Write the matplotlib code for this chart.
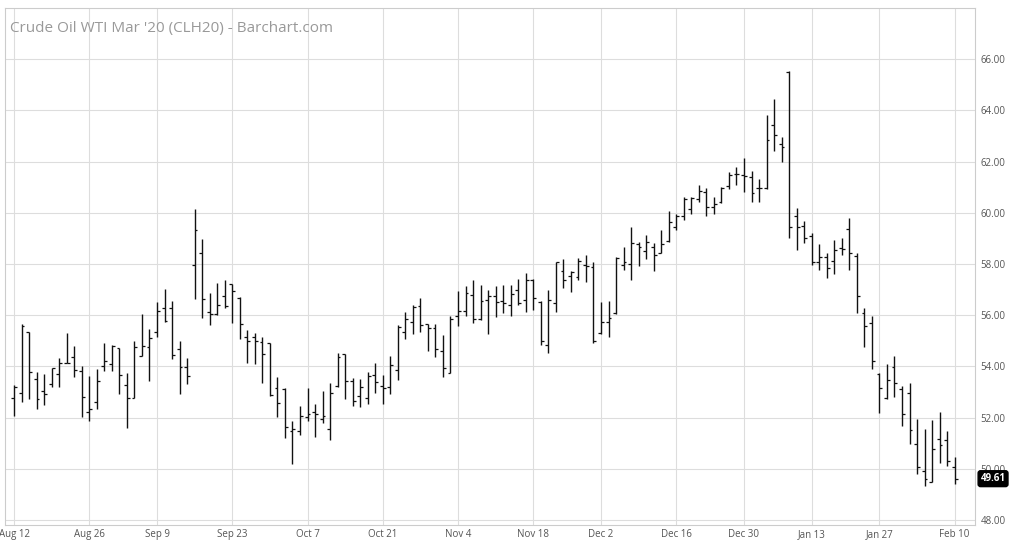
import matplotlib
matplotlib.use("Agg")
import matplotlib.pyplot as plt
import numpy as np

plt.rcParams['font.family'] = ['Open Sans', 'DejaVu Sans']

# daily OHLC (index = trading day from Aug 12)
opens = [52.75, 52.97, 55.33, 53.5, 53.05, 53.3, 53.7, 54.14, 54.35, 53.83,
         52.2, 52.61, 54.03, 54.1, 54.72, 53.27, 52.78, 54.42, 54.75, 55.36,
         56.27, 56.27, 54.68, 53.99, 57.95, 58.43, 56.14, 56.04, 56.76, 57.22,
         56.65, 55.16, 55.14, 54.94, 54.9, 53.14, 53.11, 51.48, 51.48, 52.03,
         52.2, 51.96, 51.57, 53.24, 54.48, 53.44, 52.85, 52.75, 53.66, 53.24,
         53.2, 53.86, 55.36, 55.75, 56.37, 55.66, 55.49, 54.58, 53.73, 55.97,
         56.18, 56.77, 55.84, 56.58, 56.76, 56.54, 56.41, 56.99, 56.6, 57.36,
         56.51, 54.84, 56.47, 57.71, 57.54, 57.49, 57.97, 57.88, 55.29, 55.73,
         56.08, 57.97, 58.0, 58.78, 58.51, 58.67, 58.44, 58.89, 59.45, 59.87,
         60.13, 60.52, 60.82, 60.24, 60.43, 61.05, 61.5, 61.48, 61.41, 60.95,
         60.95, 63.44, 62.68, 65.5, 59.87, 59.48, 59.08, 58.08, 58.26, 58.1,
         58.63, 59.37, 58.3, 56.1, 55.69, 53.7, 52.75, 53.99, 53.11, 52.94,
         50.98, 49.9, 49.48, 51.15, 51.11, 50.07]
highs = [53.27, 55.66, 55.33, 53.79, 53.7, 53.95, 54.31, 55.29, 54.81, 54.0,
         53.63, 53.9, 54.9, 54.84, 54.72, 53.73, 54.97, 56.04, 55.45, 56.5,
         57.02, 56.56, 55.0, 54.31, 60.16, 58.98, 56.86, 57.25, 57.36, 57.22,
         56.69, 55.42, 55.29, 55.16, 54.93, 53.57, 53.14, 51.87, 52.44, 53.14,
         52.52, 53.03, 53.33, 54.51, 54.48, 53.56, 53.49, 53.79, 54.12, 53.66,
         54.42, 55.62, 56.14, 56.38, 56.67, 55.66, 55.66, 55.23, 55.97, 56.93,
         57.12, 57.36, 57.19, 57.0, 57.15, 57.19, 57.19, 57.42, 57.65, 57.42,
         56.54, 56.97, 58.08, 58.2, 57.74, 58.24, 58.33, 58.07, 56.5, 56.54,
         58.29, 58.67, 59.44, 58.85, 59.12, 58.82, 59.32, 60.08, 59.97, 60.63,
         60.63, 61.09, 60.95, 60.6, 61.02, 61.58, 61.78, 62.13, 61.63, 61.32,
         63.83, 64.46, 62.95, 65.53, 60.2, 59.67, 59.22, 58.76, 58.43, 58.92,
         59.02, 59.78, 58.41, 56.27, 55.97, 53.73, 54.08, 54.41, 53.23, 53.33,
         51.96, 51.54, 51.9, 52.2, 51.48, 50.46]
lows = [52.05, 52.61, 52.74, 52.33, 52.5, 53.18, 53.18, 54.12, 53.6, 52.03,
        51.88, 52.35, 53.83, 53.83, 52.92, 51.6, 52.78, 54.42, 53.44, 55.16,
        55.73, 54.29, 52.92, 53.31, 56.64, 55.88, 55.62, 56.01, 56.27, 55.71,
        55.06, 54.12, 54.09, 53.36, 52.85, 52.03, 51.18, 50.17, 51.31, 51.87,
        51.22, 51.8, 51.11, 53.2, 52.71, 52.46, 52.42, 52.51, 52.97, 52.51,
        52.9, 53.46, 55.07, 55.25, 55.36, 54.61, 54.35, 53.57, 53.73, 55.58,
        55.97, 55.69, 55.82, 55.27, 55.92, 56.08, 55.95, 56.41, 56.14, 56.21,
        54.84, 54.51, 56.14, 57.06, 56.9, 57.39, 57.28, 54.9, 55.27, 55.16,
        56.05, 57.78, 57.36, 57.93, 58.18, 57.72, 58.43, 58.86, 59.32, 59.71,
        59.97, 60.43, 59.88, 59.97, 60.37, 60.92, 61.09, 60.82, 60.43, 60.43,
        60.93, 62.43, 61.97, 59.0, 58.56, 58.82, 57.97, 57.75, 57.45, 57.62,
        58.34, 57.75, 56.08, 54.77, 53.88, 52.16, 52.72, 52.81, 51.66, 50.98,
        49.8, 49.31, 49.48, 50.24, 50.1, 49.41]
closes = [53.2, 55.56, 53.79, 52.72, 52.92, 53.95, 54.12, 54.14, 53.86, 52.81,
          52.35, 53.44, 54.2, 54.81, 53.66, 52.78, 54.77, 54.8, 55.12, 56.18,
          55.79, 54.44, 53.99, 53.63, 59.32, 56.63, 56.05, 56.41, 56.37, 56.95,
          55.66, 54.99, 54.97, 54.48, 52.88, 52.55, 51.61, 51.57, 52.05, 52.12,
          52.12, 52.05, 52.94, 54.35, 53.44, 52.64, 53.2, 53.62, 53.37, 53.16,
          54.05, 55.53, 55.86, 56.31, 55.62, 55.49, 54.67, 53.92, 55.86, 56.18,
          56.86, 55.84, 56.54, 56.76, 56.5, 56.47, 56.82, 56.47, 57.39, 56.67,
          55.0, 56.6, 58.07, 57.39, 57.67, 58.1, 57.91, 54.97, 55.73, 55.88,
          58.24, 58.08, 58.82, 58.67, 58.86, 58.34, 58.77, 59.65, 59.87, 60.52,
          60.56, 60.86, 60.24, 60.34, 60.95, 61.48, 61.5, 61.44, 60.76, 60.98,
          62.85, 63.02, 62.56, 59.45, 59.45, 59.02, 58.08, 58.27, 57.84, 58.54,
          58.6, 58.41, 56.73, 55.58, 54.21, 53.14, 53.46, 53.33, 52.13, 51.53,
          50.07, 49.61, 50.75, 50.94, 50.3, 49.61]

tick_idx = [0, 10, 19, 29, 39, 49, 59, 69, 78, 88, 97, 106, 115, 125]
tick_labels = ["Aug 12", "Aug 26", "Sep 9", "Sep 23", "Oct 7", "Oct 21", "Nov 4",
               "Nov 18", "Dec 2", "Dec 16", "Dec 30", "Jan 13", "Jan 27", "Feb 10"]
y_ticks = np.arange(48, 67, 2)

x = np.arange(len(closes))

fig = plt.figure(figsize=(10.24, 5.41), dpi=100)
ax = fig.add_axes([5 / 1024, 16 / 541, 970 / 1024, 517 / 541])

ax.vlines(x, lows, highs, color="#111111", lw=1.0)
ax.hlines(opens, x - 0.38, x, color="#111111", lw=0.9)
ax.hlines(closes, x, x + 0.38, color="#111111", lw=0.9)

ax.set_xlim(-1.2, 127.7)
ax.set_ylim(47.8, 68.0)
ax.set_xticks(tick_idx)
ax.set_xticklabels(tick_labels)
ax.set_yticks(y_ticks)
ax.set_yticklabels([f"{v:.2f}" for v in y_ticks])
ax.yaxis.tick_right()
ax.tick_params(axis="both", labelsize=7, colors="#555555", length=0, pad=4)
ax.tick_params(axis="x", pad=3)
ax.grid(True, color="#dddddd", lw=0.8)
ax.set_axisbelow(True)
for s in ax.spines.values():
    s.set_color("#cccccc")
    s.set_linewidth(0.8)

ax.text(0.005, 0.975, "Crude Oil WTI Mar '20 (CLH20) - Barchart.com",
        transform=ax.transAxes, ha="left", va="top", fontsize=11, color="#999999")

# last price badge, drawn over the 50.00 label like the original
ax.annotate(f"{closes[-1]:.2f}", xy=(1.0, closes[-1]), xycoords=("axes fraction", "data"),
            xytext=(4, 0), textcoords="offset points", ha="left", va="center",
            fontsize=7, color="white", fontweight="bold", zorder=10,
            bbox=dict(boxstyle="round,pad=0.25", fc="black", ec="black"))

fig.savefig("out.png", dpi=100, facecolor="white")
